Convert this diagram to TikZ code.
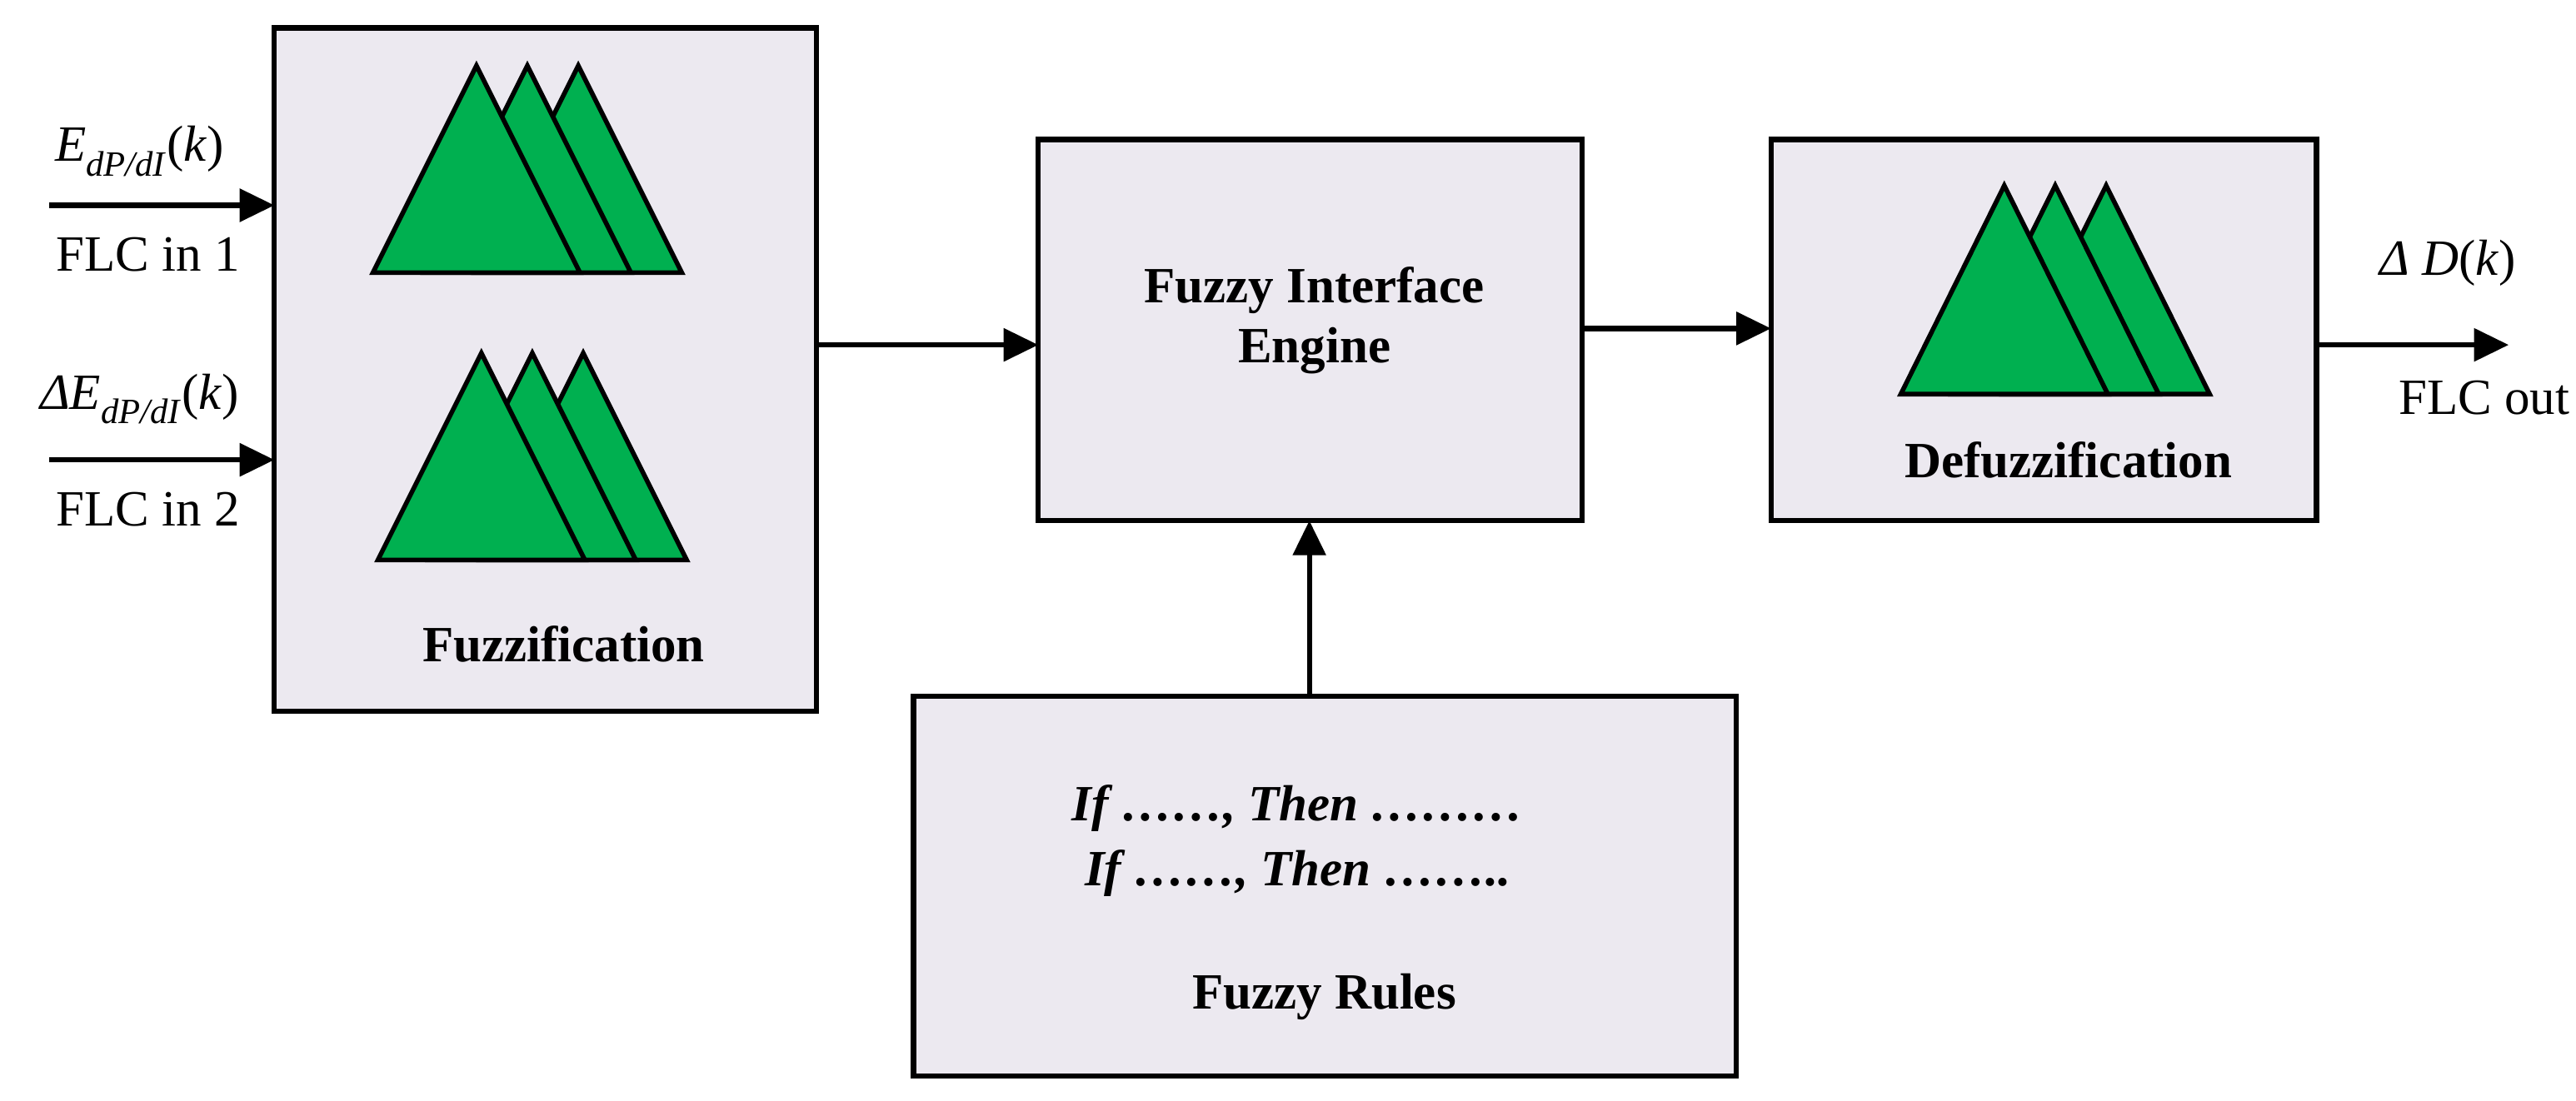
\documentclass[tikz,border=0pt]{standalone}
\usepackage{fontspec}
\setmainfont{Liberation Serif}
\usetikzlibrary{arrows.meta}
\definecolor{boxfill}{HTML}{ECE9F0}
\definecolor{tri}{HTML}{00B050}
\begin{document}
\begin{tikzpicture}[x=0.05cm,y=-0.05cm,
  box/.style={draw=black,fill=boxfill,line width=4.5pt},
  arr/.style={line width=4.5pt,-{Triangle[length=30pt,width=28pt]}},
  lab/.style={font=\fontsize{44}{52}\selectfont},
  blab/.style={font=\fontsize{44}{52}\selectfont\bfseries,align=center},
  trist/.style={fill=tri,draw=black,line width=4pt,line join=miter}]
\useasboundingbox (0,0) rectangle (1568,670.4);
\newcommand{\tris}[3]{% base-left x, apex y, base y
  \foreach \s in {62,31,0}{
    \draw[trist] (#1+\s,#3) -- (#1+\s+63,#2) -- (#1+\s+126,#3) -- cycle;}}
\path[box] (167,17) rectangle (497,433);
\coordinate (fzw1) at (167,125);
\coordinate (fzw2) at (167,280);
\coordinate (fze) at (497,210);
\path[box] (632,85) rectangle (963,317);
\coordinate (enw) at (632,210);
\coordinate (ene) at (963,200);
\coordinate (ens) at (797,317);
\path[box] (1078,85) rectangle (1410,317);
\coordinate (dfw) at (1078,200);
\coordinate (dfe) at (1410,210);
\path[box] (556,424) rectangle (1057,655);
\coordinate (run) at (797,424);
\tris{227}{40}{166}
\tris{230}{215}{341}
\tris{1157}{113}{240}
\node[blab] (fzl) at (343,392) {Fuzzification};
\node[blab] (enl) at (800,195) {Fuzzy Interface\\Engine};
\node[blab] (dfl) at (1259,280) {Defuzzification};
\node[blab,font=\fontsize{44}{56}\selectfont\bfseries\itshape] (rl) at (790,512) {If ……, Then ………\\If ……, Then ……..};
\node[blab] (rt) at (806,607) {Fuzzy Rules};
\coordinate (in1) at (30,125);
\coordinate (in2) at (30,280);
\coordinate (out) at (1527,210);
\draw[arr] (in1) -- (fzw1);
\draw[arr] (in2) -- (fzw2);
\draw[arr] (fze) -- (enw);
\draw[arr] (ene) -- (dfw);
\draw[arr] (dfe) -- (out);
\draw[arr] (run) -- (ens);
\node[lab] (e1) at (85,92) {\textit{E}\textsubscript{\textit{dP/dI}}(\textit{k})};
\node[lab] (f1) at (90,155) {FLC in 1};
\node[lab] (e2) at (85,243) {\textit{ΔE}\textsubscript{\textit{dP/dI}}(\textit{k})};
\node[lab] (f2) at (90,310) {FLC in 2};
\node[lab] (d) at (1490,160) {\textit{Δ D}(\textit{k})};
\node[lab] (fo) at (1512,242) {FLC out};
\end{tikzpicture}
\end{document}
